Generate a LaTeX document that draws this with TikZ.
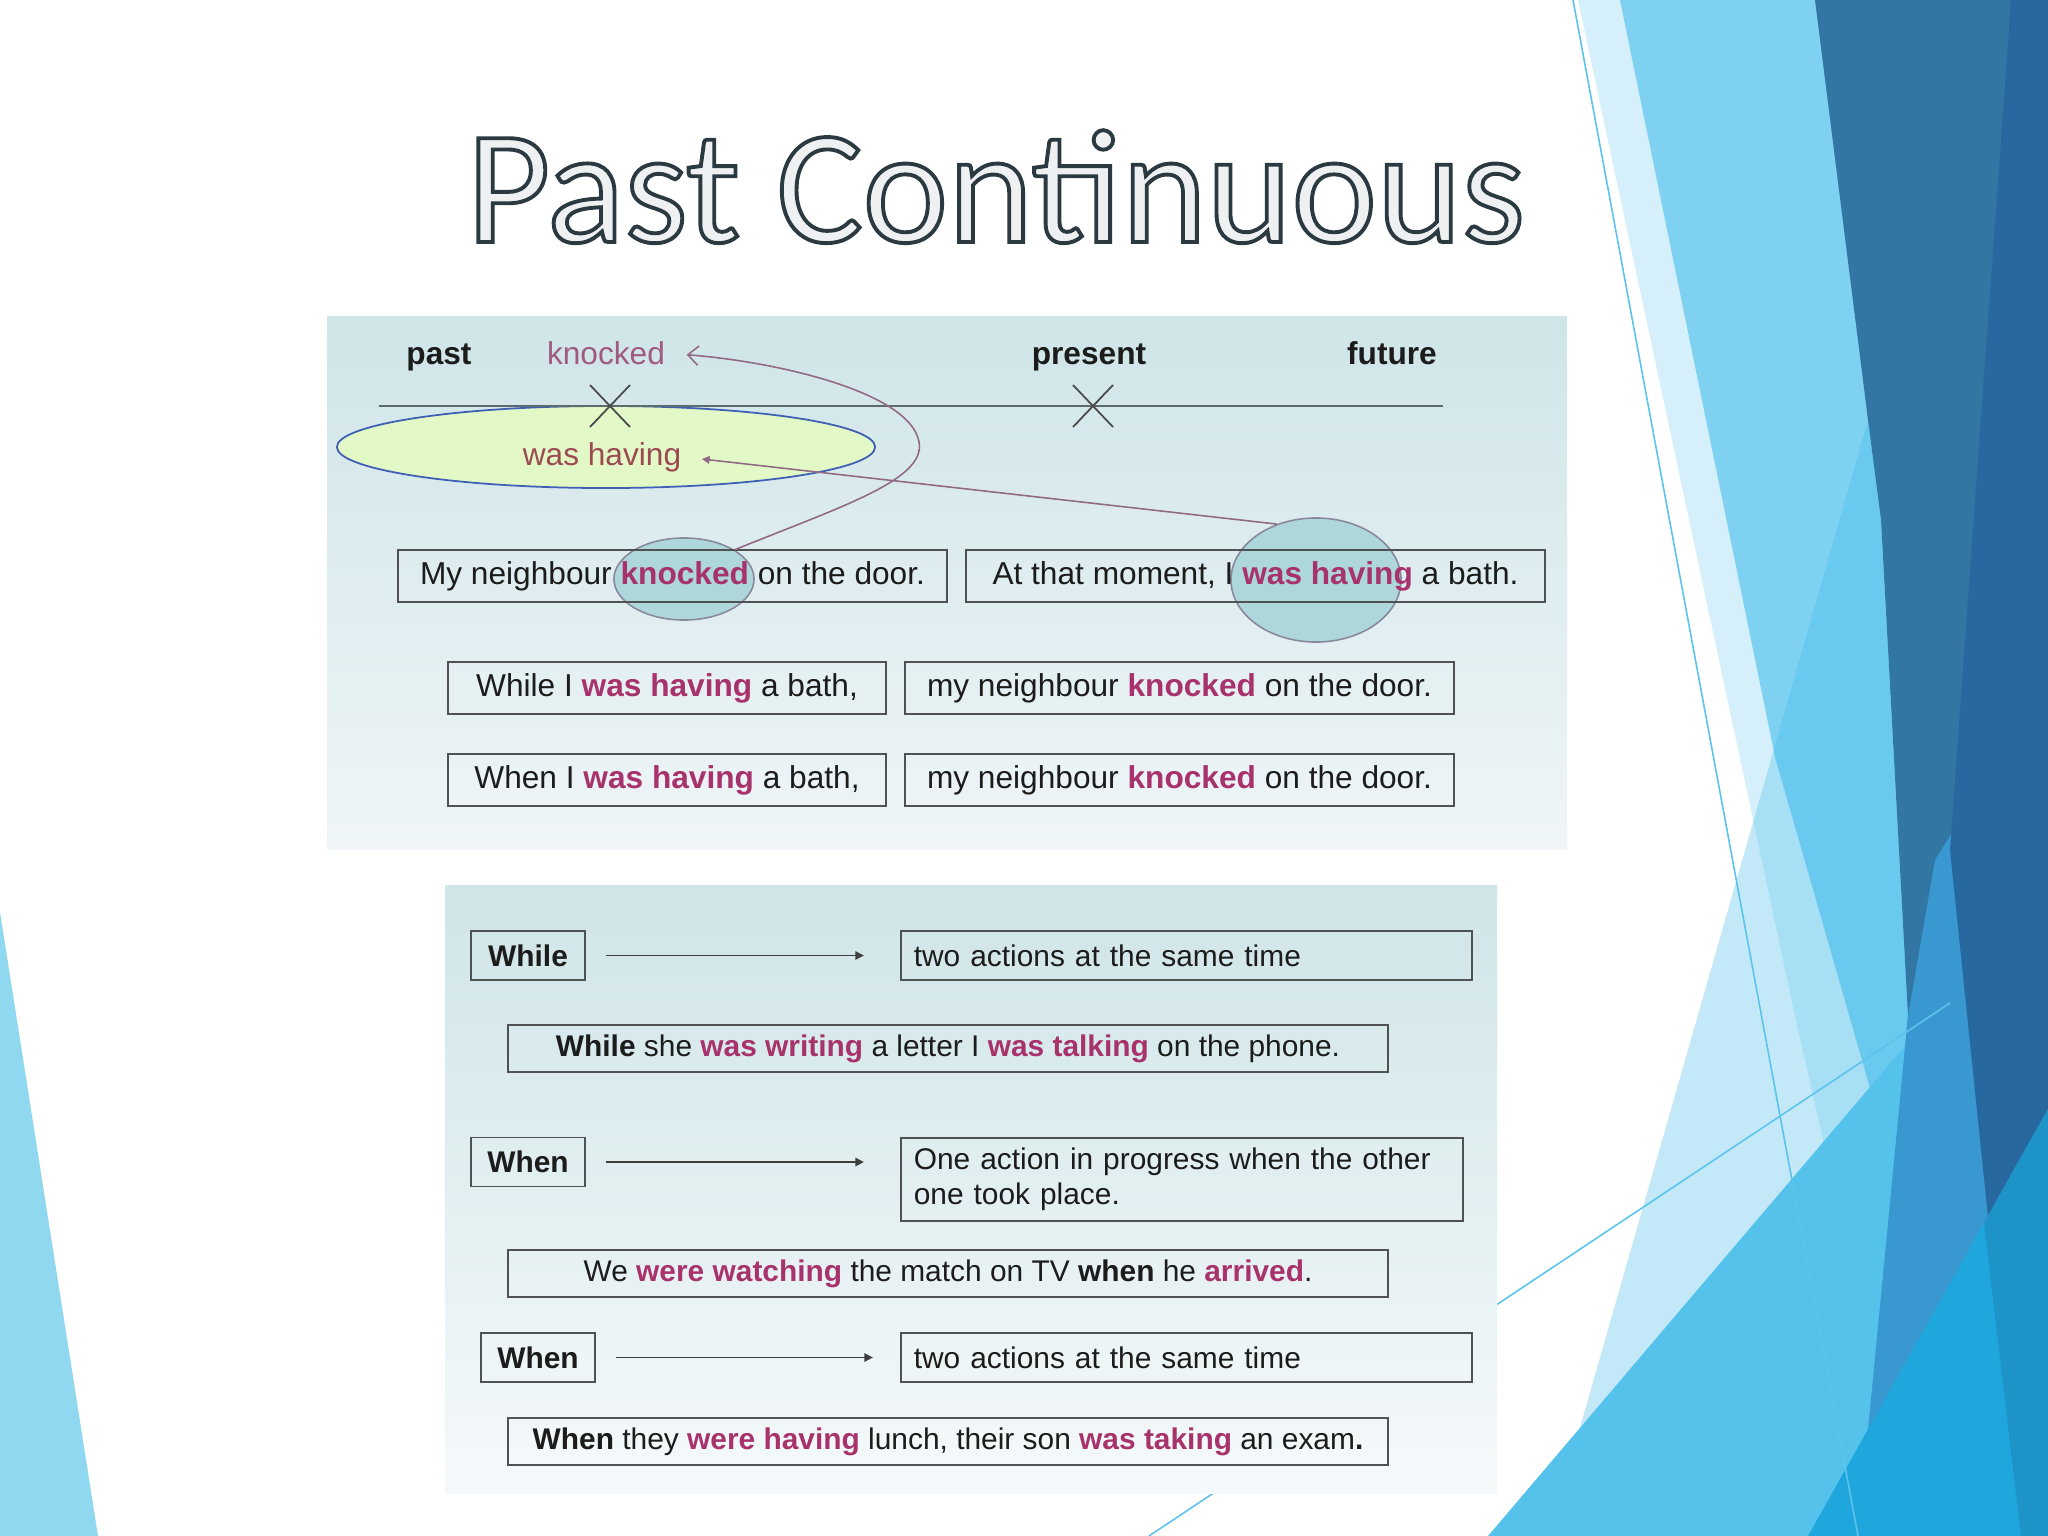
\documentclass[tikz,border=0pt]{standalone}
\usepackage{fontspec}
\setmainfont{Liberation Sans}
\newfontfamily\titlefont{Carlito}
\usetikzlibrary{shapes.geometric,arrows.meta,calc}
\definecolor{ink}{HTML}{1C1C1C}
\definecolor{pinkb}{HTML}{A8336C}
\definecolor{mauve}{HTML}{A05A80}
\definecolor{brick}{HTML}{9C4A52}
\definecolor{boxline}{HTML}{4F5152}
\definecolor{tline}{HTML}{5C6B6B}
\definecolor{spanfill}{HTML}{E2F8C6}
\definecolor{spanline}{HTML}{3F5FB5}
\definecolor{circfill}{HTML}{ADD7DB}
\definecolor{circline}{HTML}{8A899C}
\definecolor{curvcol}{HTML}{936A86}
\definecolor{panTop}{HTML}{CFE5E8}
\definecolor{panBot}{HTML}{EFF5F8}
\definecolor{titleedge}{HTML}{2B3940}
\definecolor{titlefill}{HTML}{EEF0F2}
\definecolor{bgStrip}{HTML}{D6F0FB}
\definecolor{bgL}{HTML}{7FD1F2}
\definecolor{bgDa}{HTML}{3276A3}
\definecolor{bgDb}{HTML}{2868A0}
\definecolor{bgT}{HTML}{3BB8E8}
\definecolor{bgM}{HTML}{3A98D0}
\definecolor{bgBa}{HTML}{55C2EC}
\definecolor{bgBb}{HTML}{1FA6DC}
\definecolor{bgBd}{HTML}{1E93C8}
\definecolor{bgLeft}{HTML}{8FD8F0}
\definecolor{bgLine}{HTML}{5CC4EC}
\newcommand\pkw[1]{\textbf{\color{pinkb}#1}}
\newcommand\outlined[1]{\special{pdf:literal direct 2 Tr 1.1 w 0.169 0.224 0.251 RG}#1\special{pdf:literal direct 0 Tr 0.4 w}}
\begin{document}
\begin{tikzpicture}[x=0.01cm,y=-0.01cm,
  titlestyle/.style={font=\titlefont\fontsize{46}{50}\selectfont, inner sep=0, anchor=base},
  tlb/.style={font=\fontsize{9}{11}\selectfont\bfseries, text=ink, inner sep=0, anchor=base},
  tlr/.style={font=\fontsize{9}{11}\selectfont, inner sep=0},
  sbox/.style={draw=boxline, line width=0.55pt, inner sep=0, minimum height=0.52cm, font=\fontsize{9}{11}\selectfont, text=ink},
  lbox/.style={draw=boxline, line width=0.55pt, inner sep=0, minimum width=1.14cm, minimum height=0.49cm, font=\fontsize{8.5}{10}\selectfont\bfseries, text=ink},
  dbox/.style={draw=boxline, line width=0.55pt, inner xsep=0.13cm, inner ysep=0, align=left, minimum height=0.49cm, font=\fontsize{8.5}{10}\selectfont, text=ink},
  bsbox/.style={draw=boxline, line width=0.55pt, inner sep=0, minimum width=8.80cm, minimum height=0.47cm, font=\fontsize{8.5}{10}\selectfont, text=ink},
  circ/.style={ellipse, draw=circline, fill=circfill, line width=0.45pt, inner sep=0},
  arr/.style={draw=ink!85, line width=0.4pt, -{Triangle[length=2.4pt,width=2.4pt]}},
  hlarrow/.style={draw=curvcol, line width=0.45pt, -{Triangle[length=2.2pt,width=2.2pt]}},
  curvarrow/.style={draw=curvcol, line width=0.45pt, -{Straight Barb[length=3pt,width=5.5pt]}},
  xmark/.style={draw=ink!80, line width=0.5pt},
  thinline/.style={draw=bgLine, line width=0.45pt}
]
\useasboundingbox (0,0) rectangle (2048,1536);
\fill[white] (0,0) rectangle (2048,1536);
% ---- background facets
\fill[bgLeft] (0,912) -- (98,1536) -- (0,1536) -- cycle;
\fill[bgStrip] (1578,0) -- (1622,0) -- (1872,1095) -- (1880,1390) -- (1795,1016) -- cycle;
\fill[bgL] (1620,0) -- (2048,0) -- (2048,1100) -- (1872,1095) -- (1775,757) -- cycle;
\fill[bgDa] (1815,0) -- (2048,0) -- (2048,1536) -- (1870,1440) -- (1908,1016) -- (1881,520) -- (1868,420) -- cycle;
\fill[bgT, opacity=0.3] (1868,420) -- (1881,520) -- (1908,1016) -- (1870,1440) -- (1860,1536) -- (1549,1536) -- cycle;
\fill[bgBa] (1488,1536) -- (1910,1040) -- (1925,1040) -- (1900,1536) -- cycle;
\fill[bgM] (1908,1016) -- (1935,860) -- (1960,820) -- (2005,1223) -- (1868,1430) -- cycle;
\fill[bgDb] (2011,0) -- (2048,0) -- (2048,1536) -- (2021,1536) -- (1950,850) -- cycle;
\fill[bgBb] (2048,1109) -- (1808,1536) -- (2048,1536) -- cycle;
\fill[bgBd] (1984,1223) -- (2048,1109) -- (2048,1536) -- (2021,1536) -- cycle;
\coordinate (la1) at (1573,0); \coordinate (la2) at (1858,1536);
\coordinate (lb1) at (1950,1003); \coordinate (lb2) at (1149,1536);
\draw[thinline] (la1) -- (la2);
\draw[thinline] (lb1) -- (lb2);
% ---- title
\node[titlestyle, text=titlefill] (title) at (996,242) {\outlined{Past Continuous}};
% ---- panels
\fill[top color=panTop, bottom color=panBot] (327,316) rectangle (1567,849);
\fill[top color=panTop, bottom color=panBot!60!white] (445,885) rectangle (1497,1493);
% ---- timeline
\node[tlb] (past) at (439,364) {past};
\node[tlr, text=mauve, anchor=base] (kn) at (606,364) {knocked};
\node[tlb] (pres) at (1089,364) {present};
\node[tlb] (fut) at (1392,364) {future};
\node[ellipse, draw=spanline, fill=spanfill, line width=0.5pt, minimum width=5.38cm, minimum height=0.82cm, inner sep=0] (span) at (606,447) {};
\coordinate (tlA) at (379,406); \coordinate (tlB) at (1443,406);
\draw[draw=tline, line width=0.8pt] (tlA) -- (tlB);
\coordinate (xp) at (610,406); \coordinate (xq) at (1093,406);
\draw[xmark] (xp) +(-20,-21) -- +(20,21) (xp) +(-20,21) -- +(20,-21);
\draw[xmark] (xq) +(-20,-21) -- +(20,21) (xq) +(-20,21) -- +(20,-21);
\node[tlr, text=brick] (wh) at (602,457) {was having};
% ---- circles and sentences
\node[circ, minimum width=1.40cm, minimum height=0.82cm] (c1) at (684,579) {};
\node[circ, minimum width=1.70cm, minimum height=1.24cm] (c2) at (1316,580) {};
\node[sbox, minimum width=5.49cm] (s1) at (672.5,576) {My neighbour \pkw{knocked} on the door.};
\node[sbox, minimum width=5.79cm] (s2) at (1255.5,576) {At that moment, I \pkw{was having} a bath.};
\node[sbox, minimum width=4.38cm] (s3) at (667,688) {While I \pkw{was having} a bath,};
\node[sbox, minimum width=5.49cm] (s4) at (1179.5,688) {my neighbour \pkw{knocked} on the door.};
\node[sbox, minimum width=4.38cm] (s5) at (667,780) {When I \pkw{was having} a bath,};
\node[sbox, minimum width=5.49cm] (s6) at (1179.5,780) {my neighbour \pkw{knocked} on the door.};
\draw[hlarrow] (c2.125) -- ($(wh.east)+(20,2)$);
\draw[curvarrow] (c1.30) .. controls (845,505) and (932,478) .. (918,438) .. controls (904,392) and (780,362) .. ($(kn.east)+(21,2)$);
% ---- lower panel
\node[lbox] (w1) at (528,955.5) {While};
\node[dbox, text width=5.45cm] (d1) at (1186.5,955.5) {two actions at the same time};
\draw[arr, shorten <=0.2cm, shorten >=0.36cm] (w1) -- (d1);
\node[bsbox] (b1) at (948,1048.5) {\textbf{While} she \pkw{was writing} a letter I \pkw{was talking} on the phone.};
\node[lbox] (w2) at (528,1162) {When};
\node[dbox, text width=5.36cm, minimum height=0.83cm] (d2) at (1182,1179.5) {One action in progress when the other\\one took place.};
\draw[arr, shorten <=0.2cm, shorten >=0.36cm] (w2.east) -- (w2.east -| d2.west);
\node[bsbox] (b2) at (948,1273.5) {We \pkw{were watching} the match on TV \textbf{when} he \pkw{arrived}.};
\node[lbox] (w3) at (538,1357.5) {When};
\node[dbox, text width=5.45cm] (d3) at (1186.5,1357.5) {two actions at the same time};
\draw[arr, shorten <=0.2cm, shorten >=0.27cm] (w3) -- (d3);
\node[bsbox] (b3) at (948,1441.5) {\textbf{When} they \pkw{were having} lunch, their son \pkw{was taking} an exam\textbf{.}};
\end{tikzpicture}
\end{document}
